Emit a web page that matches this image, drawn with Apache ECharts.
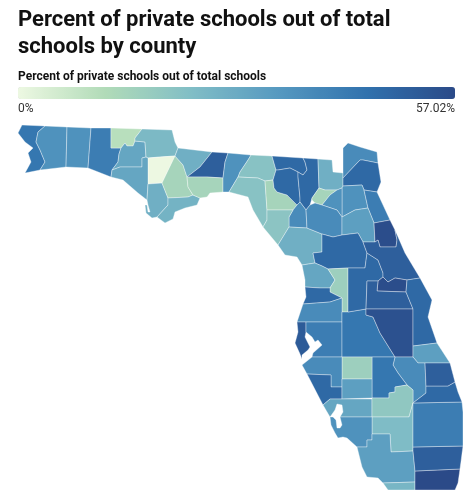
<!DOCTYPE html>
<html><head><meta charset="utf-8">
<style>html,body{margin:0;padding:0;background:#fff}#c{width:473px;height:500px}</style>
<script src="https://cdn.jsdelivr.net/npm/echarts@6/dist/echarts.min.js"></script>
</head><body><div id="c"></div>
<script>
const chartTitle = "Percent of private schools out of total\nschools by county";
const legendTitle = "Percent of private schools out of total schools";
const legendMinLabel = "0%";
const legendMaxLabel = "57.02%";
const minValue = 0;
const maxValue = 57.02;
const rampColors = ["#edf8e2","#b1dbb8","#80bdc6","#5598c0","#3071ad","#2b4a88"];

const countyNames = ["Escambia","Santa Rosa","Okaloosa","Walton","Holmes","Washington","Jackson","Calhoun","Bay","Gulf","Liberty","Franklin","Gadsden","Leon","Wakulla","Jefferson","Madison","Taylor","Lafayette","Hamilton","Suwannee","Columbia","Baker","Nassau","Duval","Clay","St. Johns","Union","Bradford","Gilchrist","Dixie","Levy","Alachua","Putnam","Flagler","Marion","Citrus","Sumter","Hernando","Pasco","Pinellas","Hillsborough","Polk","Lake","Volusia","Seminole","Orange","Osceola","Brevard","Indian River","Okeechobee","Highlands","Hardee","Manatee","Sarasota","DeSoto","Charlotte","Glades","Hendry","Lee","Collier","Monroe","Miami-Dade","Broward","Palm Beach","Martin","St. Lucie"];
const privatePercent = [44,36,36,42,10,30,24,0,30,27,14,26,27,51,14,36,21,21,14,48,48,48,27,38,48,36,42,14,36,38,20,27,38,32,56,48,30,16,48,38,52,42,44,48,51,56,51,55,48,32,38,44,16,38,48,32,30,19,23,36,32,25,57.02,51,42,48,51];

// County outlines, in map units
const countyOutlines = {
"Escambia":[[22,125],[45,126],[38,132],[36,142],[40,150],[45,162],[40,170],[25,173],[31,162],[28,153],[33,148],[25,142],[18,133]],
"Santa Rosa":[[45,126],[67,127],[66,167],[40,170],[45,162],[40,150],[36,142],[38,132]],
"Okaloosa":[[67,127],[91,128],[88,168],[66,167]],
"Walton":[[91,128],[111,128],[111,148],[121,148],[119,154],[118,162],[112,170],[111,177],[88,168]],
"Holmes":[[111,128],[142,129],[135,138],[135,141],[133,146],[127,146],[125,143],[121,148],[111,148]],
"Washington":[[121,148],[125,143],[127,146],[133,146],[135,141],[145,142],[146,157],[142,158],[142,167],[120,167],[112,170],[118,162],[119,154]],
"Jackson":[[142,129],[172,130],[175,142],[178,148],[175,156],[160,157],[148,158],[146,157],[145,142],[135,141],[135,138]],
"Calhoun":[[148,158],[160,157],[175,156],[162,183],[148,184]],
"Bay":[[112,170],[120,167],[142,167],[142,158],[146,157],[148,158],[148,184],[147,200],[138,193],[123,180],[111,177]],
"Gulf":[[148,184],[162,183],[168,198],[168,205],[157,217],[152,218],[146,213],[145,205],[147,205],[148,212],[150,212],[148,205],[147,200]],
"Liberty":[[175,156],[183,165],[187,177],[188,187],[193,195],[188,197],[168,198],[162,183]],
"Franklin":[[168,198],[188,197],[193,195],[200,198],[197,205],[185,208],[175,212],[173,219],[165,223],[157,217],[168,205]],
"Gadsden":[[178,148],[212,152],[200,167],[187,177],[183,165],[175,156]],
"Leon":[[212,152],[228,153],[225,162],[223,178],[207,177],[187,177],[200,167]],
"Wakulla":[[187,177],[207,177],[223,178],[223,192],[210,193],[207,197],[200,198],[193,195],[188,187]],
"Jefferson":[[228,153],[251,155],[248,160],[240,172],[238,177],[229,192],[223,192],[223,178],[225,162]],
"Madison":[[251,155],[272,156],[276,170],[273,180],[265,181],[258,178],[238,177],[240,172],[248,160]],
"Taylor":[[238,177],[258,178],[265,181],[267,210],[267,220],[263,227],[253,210],[248,197],[229,192]],
"Lafayette":[[265,181],[273,180],[274,188],[277,192],[287,195],[297,205],[293,210],[267,210]],
"Hamilton":[[272,156],[303,158],[305,162],[307,170],[303,175],[298,172],[290,168],[278,170],[276,170]],
"Suwannee":[[276,170],[278,170],[290,168],[298,172],[298,177],[300,198],[300,202],[297,205],[287,195],[277,192],[274,188],[273,180]],
"Columbia":[[303,158],[318,159],[319,188],[312,198],[310,205],[306,210],[300,202],[300,198],[298,177],[298,172],[303,175],[307,170],[305,162]],
"Baker":[[318,159],[332,160],[333,172],[343,173],[343,178],[343,186],[342,188],[337,190],[325,190],[319,188]],
"Nassau":[[343,173],[343,148],[348,143],[360,147],[377,152],[378,163],[363,160],[360,160],[343,178]],
"Duval":[[343,178],[360,160],[363,160],[378,163],[381,182],[377,192],[364,190],[362,185],[343,186]],
"Clay":[[343,186],[362,185],[364,190],[368,208],[355,210],[342,217],[342,188]],
"St. Johns":[[364,190],[377,192],[390,220],[374,223],[368,208]],
"Union":[[312,198],[319,188],[325,190],[337,190],[330,195],[322,205],[315,203],[312,200]],
"Bradford":[[337,190],[342,188],[342,217],[337,210],[322,205],[330,195]],
"Gilchrist":[[297,205],[300,202],[306,210],[307,228],[289,227],[289,217],[293,210]],
"Dixie":[[267,210],[293,210],[289,217],[289,227],[278,245],[263,227],[267,220]],
"Levy":[[289,227],[307,228],[322,234],[322,252],[313,253],[315,263],[302,265],[297,257],[285,255],[278,245]],
"Alachua":[[306,210],[310,205],[315,203],[322,205],[337,210],[342,217],[342,235],[333,237],[322,234],[307,228]],
"Putnam":[[342,217],[355,210],[368,208],[374,223],[375,242],[363,242],[358,233],[342,235]],
"Flagler":[[374,223],[390,220],[395,230],[397,240],[396,247],[380,247],[378,240],[375,242]],
"Marion":[[322,234],[333,237],[342,235],[358,233],[363,242],[367,253],[365,268],[348,268],[328,269],[322,266],[315,263],[313,253],[322,252]],
"Citrus":[[302,265],[315,263],[322,266],[328,269],[335,280],[330,288],[320,288],[305,287],[305,280]],
"Sumter":[[328,269],[348,268],[348,312],[342,312],[342,298],[330,292],[330,288],[335,280]],
"Hernando":[[305,287],[320,288],[330,288],[330,292],[342,298],[330,302],[303,304],[306,297]],
"Pasco":[[303,304],[330,302],[342,298],[342,312],[342,322],[306,322],[297,322]],
"Pinellas":[[297,322],[306,322],[306,332],[305,337],[310,347],[308,350],[302,355],[302,359],[300,354],[295,343],[298,332]],
"Hillsborough":[[306,322],[342,322],[342,357],[320,357],[312,357],[313,353],[322,345],[318,340],[315,342],[312,337],[306,332]],
"Polk":[[342,322],[342,312],[348,312],[366,309],[366,315],[373,317],[380,333],[395,357],[372,357],[342,357]],
"Lake":[[348,268],[365,268],[367,253],[378,260],[383,273],[383,277],[378,281],[367,281],[366,309],[348,312]],
"Volusia":[[363,242],[375,242],[378,240],[380,247],[396,247],[397,240],[395,230],[405,253],[420,278],[407,280],[395,278],[388,282],[383,277],[383,273],[378,260],[367,253]],
"Seminole":[[383,277],[388,282],[395,278],[407,280],[406,292],[377,291],[378,281]],
"Orange":[[367,281],[378,281],[377,291],[406,292],[413,309],[366,309]],
"Osceola":[[366,309],[413,309],[413,346],[413,357],[395,357],[380,333],[373,317],[366,315]],
"Brevard":[[407,280],[420,278],[432,300],[428,317],[437,343],[413,346],[413,309],[406,292]],
"Indian River":[[413,346],[437,343],[450,363],[425,363],[418,363],[413,357]],
"Okeechobee":[[395,357],[413,357],[418,363],[425,363],[426,386],[426,393],[413,403],[413,390],[407,385],[398,373],[393,365]],
"Highlands":[[372,357],[395,357],[393,365],[398,373],[407,385],[395,387],[395,392],[389,393],[389,398],[372,398]],
"Hardee":[[342,357],[372,357],[372,379],[342,379]],
"Manatee":[[312,357],[342,357],[342,379],[342,387],[331,387],[331,375],[307,374],[302,365]],
"Sarasota":[[307,374],[331,375],[331,387],[342,387],[342,399],[330,399],[323,405]],
"DeSoto":[[342,379],[372,379],[372,398],[372,399],[342,399],[342,387]],
"Charlotte":[[323,405],[330,399],[342,399],[372,399],[372,417],[340,417],[343,412],[342,405],[337,404],[335,410],[330,417]],
"Glades":[[372,398],[389,398],[389,393],[395,392],[395,387],[407,385],[413,390],[413,403],[409,417],[372,417]],
"Hendry":[[372,417],[409,417],[413,403],[413,447],[413,451],[391,452],[390,434],[372,434]],
"Lee":[[340,417],[372,417],[372,434],[372,440],[367,440],[367,447],[357,447],[347,438],[343,437],[338,438],[335,433],[331,425],[330,417],[333,417],[336,420],[337,428],[340,428],[342,425]],
"Collier":[[357,447],[367,447],[367,440],[372,440],[372,434],[390,434],[391,452],[413,451],[415,471],[415,482],[383,483],[378,478],[367,477],[362,467]],
"Monroe":[[383,483],[415,482],[415,490],[388,490]],
"Miami-Dade":[[415,471],[460,469],[458,483],[455,490],[415,490]],
"Broward":[[413,447],[463,446],[460,469],[415,471],[413,451]],
"Palm Beach":[[413,403],[462,402],[463,412],[463,446],[413,447]],
"Martin":[[413,403],[426,393],[426,386],[448,386],[455,382],[458,392],[462,402]],
"St. Lucie":[[425,363],[450,363],[455,382],[448,386],[426,386]]
};

const floridaGeo = {type:"FeatureCollection",features:countyNames.map(name=>({
  type:"Feature",properties:{name},
  geometry:{type:"Polygon",coordinates:[countyOutlines[name].concat([countyOutlines[name][0]])]}
}))};
echarts.registerMap("florida",floridaGeo);

const chart = echarts.init(document.getElementById("c"),null,{renderer:"canvas"});
const font = "Roboto";
chart.setOption({
  animation:false,
  backgroundColor:"#fff",
  title:[
    {text:chartTitle,left:18,top:7,padding:0,textStyle:{fontFamily:font,fontWeight:700,fontSize:22,lineHeight:27,color:"#111"}},
    {text:legendTitle,left:18,top:71,padding:0,textStyle:{fontFamily:font,fontWeight:700,fontSize:12,color:"#111"}},
    {text:legendMinLabel,left:18,top:103,padding:0,textStyle:{fontFamily:font,fontWeight:400,fontSize:12,color:"#333"}},
    {text:legendMaxLabel,right:18,top:103,padding:0,textStyle:{fontFamily:font,fontWeight:400,fontSize:12,color:"#333"}}
  ],
  visualMap:{type:"continuous",min:minValue,max:maxValue,orient:"horizontal",left:18,top:87,itemWidth:12,itemHeight:437,padding:0,borderRadius:0,calculable:false,realtime:false,text:null,showLabel:false,inRange:{color:rampColors},textStyle:{fontSize:0},seriesIndex:0},
  series:[{
    type:"map",map:"florida",silent:true,
    projection:{project:p=>p,unproject:p=>p},
    layoutCenter:[240.5,307.5],layoutSize:445,
    roam:false,
    label:{show:false},
    itemStyle:{borderColor:"rgba(255,255,255,0.45)",borderWidth:0.8},
    emphasis:{disabled:true},select:{disabled:true},
    data:countyNames.map((name,i)=>({name,value:privatePercent[i]}))
  }]
});
</script></body></html>
